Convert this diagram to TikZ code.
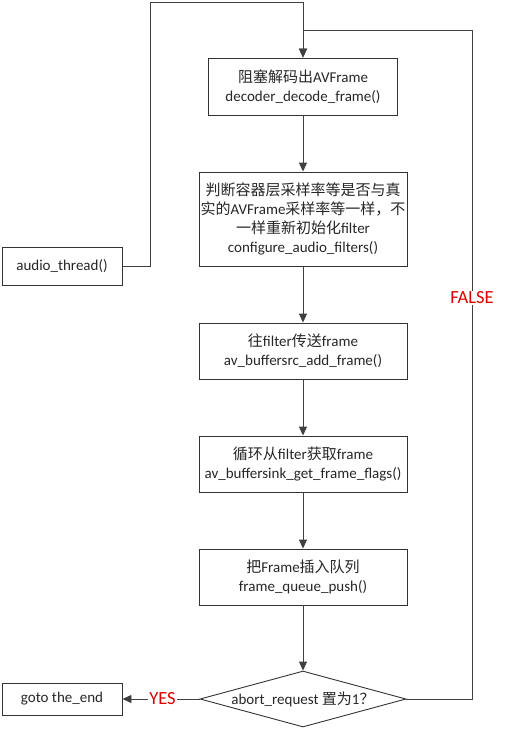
\documentclass[tikz,border=0pt]{standalone}
\usepackage{fontspec}
\setmainfont{Carlito}
\newfontfamily\cjk{Noto Sans CJK SC}
\newcommand\zh[1]{{\cjk #1}}
\usetikzlibrary{arrows.meta,shapes.geometric}
\begin{document}
\begin{tikzpicture}[x=1pt,y=-1pt,
  line width=0.9pt,
  every node/.style={font=\fontsize{15}{19}\selectfont, text=black!85},
  box/.style={draw=black!80, rectangle, align=center, inner sep=0pt, minimum width=208pt, minimum height=56pt},
  sidebox/.style={draw=black!80, rectangle, align=center, inner sep=0pt, minimum width=120pt},
  conn/.style={draw=black!75, -{Triangle[length=9pt,width=8pt]}},
  lab/.style={text=red!85!black, fill=white, inner sep=1pt, font=\fontsize{18.5}{20}\selectfont}
]
\useasboundingbox (0,0) rectangle (505,729);
\node[box, minimum width=189pt, minimum height=57pt] (b1) at (303,86.5) {\zh{阻塞解码出}AVFrame\\decoder\_decode\_frame()};
\node[box, minimum height=94pt] (b2) at (303,219) {\zh{判断容器层采样率等是否与真}\\\zh{实的}AVFrame\zh{采样率等一样，不}\\\zh{一样重新初始化}filter\\configure\_audio\_filters()};
\node[box] (b3) at (303,351) {\zh{往}filter\zh{传送}frame\\av\_buffersrc\_add\_frame()};
\node[box] (b4) at (303,464) {\zh{循环从}filter\zh{获取}frame\\av\_buffersink\_get\_frame\_flags()};
\node[box] (b5) at (303,577) {\zh{把}Frame\zh{插入队列}\\frame\_queue\_push()};
\node[draw=black!80, diamond, aspect=3.7, inner sep=0pt, minimum width=206pt, minimum height=56pt] (dia) at (303,699) {abort\_request \zh{置为}1\zh{？}};
\node[sidebox, minimum height=38pt] (at) at (62,266) {audio\_thread()};
\node[sidebox, minimum height=32pt] (end) at (62,699) {goto the\_end};

\coordinate (a1) at (150,266);
\coordinate (a2) at (150,2);
\coordinate (a3) at (303,2);
\coordinate (f1) at (472,699);
\coordinate (f2) at (472,30);
\coordinate (f3) at (303,30);

\draw[conn] (b1) -- (b2);
\draw[conn] (b2) -- (b3);
\draw[conn] (b3) -- (b4);
\draw[conn] (b4) -- (b5);
\draw[conn] (b5) -- (dia);
\draw[conn] (at.east) -- (a1) -- (a2) -- (a3) -- (b1.north);
\draw[conn] (dia.east) -- (f1) -- (f2) -- (f3) -- (b1.north);
\draw[conn] (dia.west) -- (end.east) node[lab, pos=0.48] {YES};
\node[lab] (false) at (472,298) {FALSE};
\end{tikzpicture}
\end{document}
